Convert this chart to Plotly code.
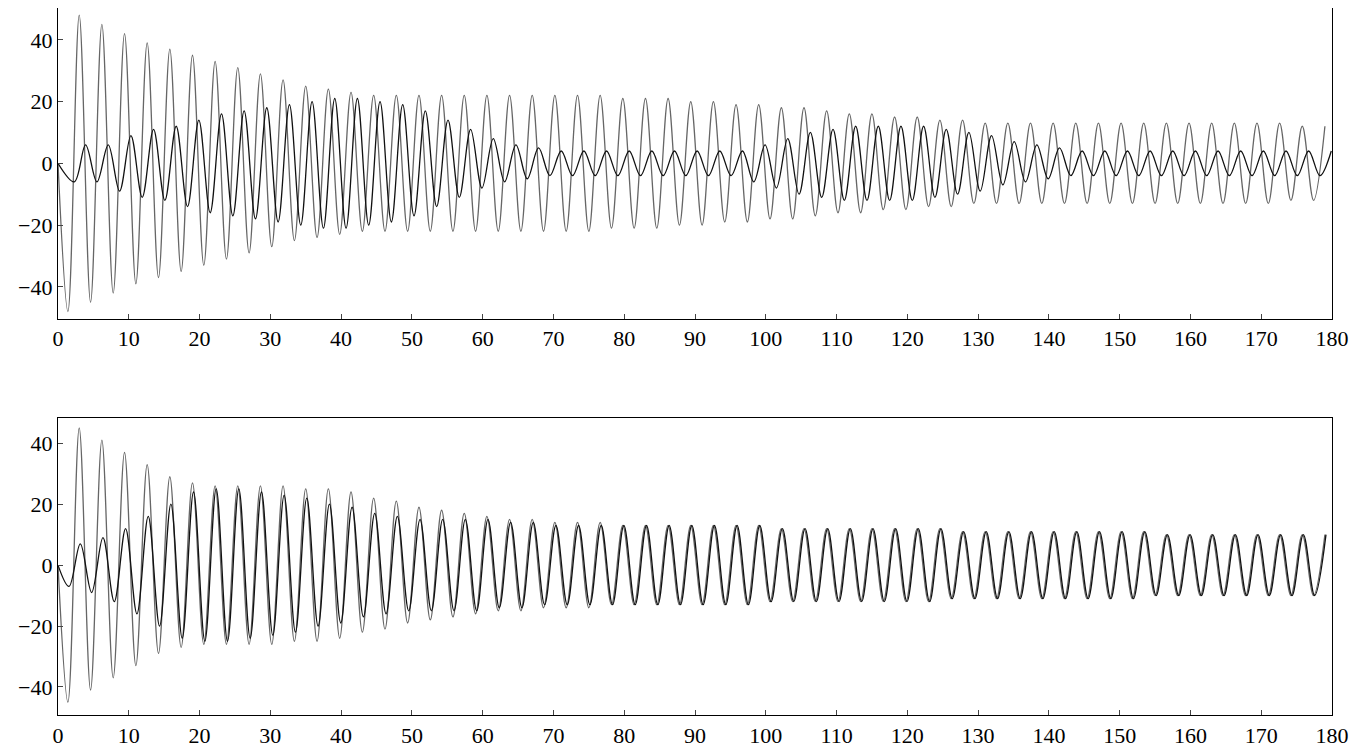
import plotly.graph_objects as go
from plotly.subplots import make_subplots

PERIOD = 3.2
T0 = 3.0
# peak amplitude per oscillation cycle
top_gray = [48,45,42,39,37,35,33,31,29,27,25,24,23,22,22,22,22,22,22,22,22,22,22,22,21,21,21,20,20,19,
            19,18,18,17,16,16,15,15,14,14,13,13,13,13,13,13,13,13,13,13,13,13,13,13,12,12]
top_dark = [6,6,9,11,12,14,16,17,18,19,20,21,21,20,19,17,14,11,8,6,5,4,4,4,4,4,4,4,4,4,
            6,8,10,11,12,12,12,12,11,10,9,7,6,5,4,4,4,4,4,4,4,4,4,4,4,4]
bot_gray = [45,41,37,33,29,27,26,26,26,26,25,25,24,22,21,19,18,17,16,15,15,14,14,14,13,13,13,13,13,13,
            13,12,12,12,12,12,12,12,12,11,11,11,11,11,11,11,11,11,10,10,10,10,10,10,10,10]
bot_dark = [7,9,12,16,20,24,25,25,24,23,22,20,19,17,16,15,15,15,15,14,14,13,13,13,13,13,13,13,13,13,
            13,12,12,12,12,12,12,12,12,11,11,11,11,11,11,11,11,11,10,10,10,10,10,10,10,10]
x_ticks = list(range(0, 181, 10))
y_ticks = [-40, -20, 0, 20, 40]

def extremes(amps, shift):
    xs, ys = [0.0], [0.0]
    for k, a in enumerate(amps):
        tp = T0 + PERIOD * k + shift
        xs += [tp - PERIOD / 2, tp]
        ys += [-a, a]
    return xs, ys

fig = make_subplots(rows=2, cols=1, vertical_spacing=0.14)
for row, (g, d, sh) in enumerate([(top_gray, top_dark, 0.9), (bot_gray, bot_dark, 0.15)], start=1):
    xs, ys = extremes(g, 0)
    fig.add_trace(go.Scatter(x=xs, y=ys, mode="lines", line=dict(color="#666", width=1.3, shape="spline")), row=row, col=1)
    xs, ys = extremes(d, sh)
    fig.add_trace(go.Scatter(x=xs, y=ys, mode="lines", line=dict(color="#111", width=1.3, shape="spline")), row=row, col=1)

fig.update_xaxes(range=[0, 180], tickvals=x_ticks, ticks="inside", mirror=True, showline=True,
                 linecolor="black", linewidth=1.2, showgrid=False, zeroline=False, ticklen=5)
fig.update_yaxes(tickvals=y_ticks, ticktext=["−40" if v == -40 else ("−20" if v == -20 else str(v)) for v in y_ticks],
                 ticks="inside", mirror=True, showline=True, linecolor="black", linewidth=1.2,
                 showgrid=False, zeroline=False, ticklen=5)
fig.update_yaxes(range=[-50.3, 50.3], row=1, col=1)
fig.update_yaxes(range=[-49.2, 48.2], row=2, col=1)
fig.update_layout(width=1358, height=749, showlegend=False, plot_bgcolor="white", paper_bgcolor="white",
                  margin=dict(l=50, r=34, t=0, b=42),
                  font=dict(family="Liberation Serif", size=22, color="black"),
                  yaxis=dict(domain=[0.5606, 1.0]), yaxis2=dict(domain=[0.0, 0.4197]))
fig.write_html("out.html")
